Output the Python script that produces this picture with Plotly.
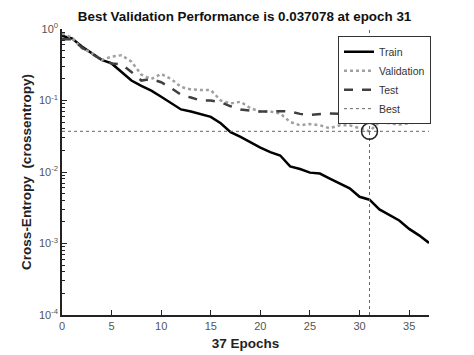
import plotly.graph_objects as go

epochs = list(range(0, 38))
train = [0.80, 0.74, 0.57, 0.46, 0.37, 0.33, 0.25, 0.19, 0.16, 0.137, 0.113, 0.091, 0.075,
         0.070, 0.064, 0.059, 0.048, 0.036, 0.031, 0.026, 0.022, 0.019, 0.017, 0.012, 0.011,
         0.0098, 0.0095, 0.0081, 0.0069, 0.0059, 0.0045, 0.0041, 0.0030, 0.0025, 0.0021,
         0.0016, 0.0013, 0.00102]
validation = [0.87, 0.76, 0.54, 0.46, 0.37, 0.41, 0.43, 0.35, 0.23, 0.20, 0.235, 0.20, 0.155,
              0.143, 0.14, 0.14, 0.10, 0.091, 0.096, 0.078, 0.07, 0.07, 0.066, 0.050, 0.045,
              0.047, 0.045, 0.041, 0.045, 0.045, 0.041, 0.037078, 0.050, 0.048, 0.046, 0.048,
              0.050, 0.052]
test = [0.72, 0.72, 0.55, 0.45, 0.37, 0.33, 0.32, 0.25, 0.19, 0.20, 0.18, 0.15, 0.12, 0.11,
        0.10, 0.10, 0.095, 0.083, 0.075, 0.072, 0.070, 0.070, 0.071, 0.070, 0.065, 0.063,
        0.065, 0.066, 0.065, 0.063, 0.062, 0.061, 0.065, 0.066, 0.068, 0.070, 0.072, 0.075]
best_epoch = 31
best_value = 0.037078
x_ticks = [0, 5, 10, 15, 20, 25, 30, 35]
y_ticks = [1e-4, 1e-3, 1e-2, 1e-1, 1]
y_ticktext = ["10<sup>-4</sup>", "10<sup>-3</sup>", "10<sup>-2</sup>", "10<sup>-1</sup>", "10<sup>0</sup>"]
y_minor = [m * 10.0 ** k for k in range(-4, 0) for m in range(2, 10)]

fig = go.Figure()
fig.add_trace(go.Scatter(x=epochs, y=train, mode="lines", name="Train",
                         line=dict(color="#000000", width=2.5)))
fig.add_trace(go.Scatter(x=epochs, y=validation, mode="lines", name="Validation",
                         line=dict(color="#a0a0a0", width=2.5, dash="dot")))
fig.add_trace(go.Scatter(x=epochs, y=test, mode="lines", name="Test",
                         line=dict(color="#404040", width=2.5, dash="dash")))
fig.add_trace(go.Scatter(x=[0, 37, None, best_epoch, best_epoch],
                         y=[best_value, best_value, None, 1e-4, 1],
                         mode="lines", name="Best",
                         line=dict(color="#666666", width=1, dash="dot")))
fig.add_trace(go.Scatter(x=[best_epoch], y=[best_value], mode="markers", showlegend=False,
                         marker=dict(symbol="circle-open", size=16, color="#222222",
                                     line=dict(width=1.5, color="#222222"))))

fig.update_layout(
    width=474, height=355,
    margin=dict(l=62, r=45, t=29, b=40, autoexpand=False),
    paper_bgcolor="white", plot_bgcolor="white",
    font=dict(family="Liberation Sans, Arial, sans-serif", color="#222222"),
    title=dict(text="Best Validation Performance is 0.037078 at epoch 31",
               x=0.516, xanchor="center", y=0.955, yanchor="middle",
               font=dict(size=13.4, weight="bold", color="#111111")),
    showlegend=True,
    legend=dict(x=0.752, y=0.975, xanchor="left", yanchor="top",
                bordercolor="#333333", borderwidth=1, bgcolor="white",
                font=dict(size=10.5, color="#333333"), itemwidth=30,
                tracegroupgap=0, traceorder="normal"),
)
fig.update_xaxes(range=[0, 37], tickvals=x_ticks, ticks="inside", ticklen=5,
                 showline=True, linecolor="#222222", linewidth=1.5, mirror=False,
                 showgrid=False, zeroline=False, tickcolor="#222222", automargin=False,
                 tickfont=dict(size=11, color="#555555"),
                 title=dict(text="37 Epochs", font=dict(size=13.5, weight="bold", color="#222222"),
                            standoff=8))
fig.update_yaxes(type="log", range=[-4, 0], tickvals=y_ticks, ticktext=y_ticktext,
                 ticks="inside", ticklen=5, showline=True, linecolor="#222222", linewidth=1.5,
                 showgrid=False, zeroline=False, tickcolor="#222222", automargin=False,
                 minor=dict(tickvals=y_minor, ticks="inside", ticklen=3, tickcolor="#222222",
                            showgrid=False),
                 tickfont=dict(size=11, color="#555555"),
                 title=dict(text="Cross-Entropy  (crossentropy)",
                            font=dict(size=13.5, weight="bold", color="#222222"), standoff=4))

fig.write_html("out.html", post_script="document.body.style.margin='0';",
               config={"displayModeBar": False})
